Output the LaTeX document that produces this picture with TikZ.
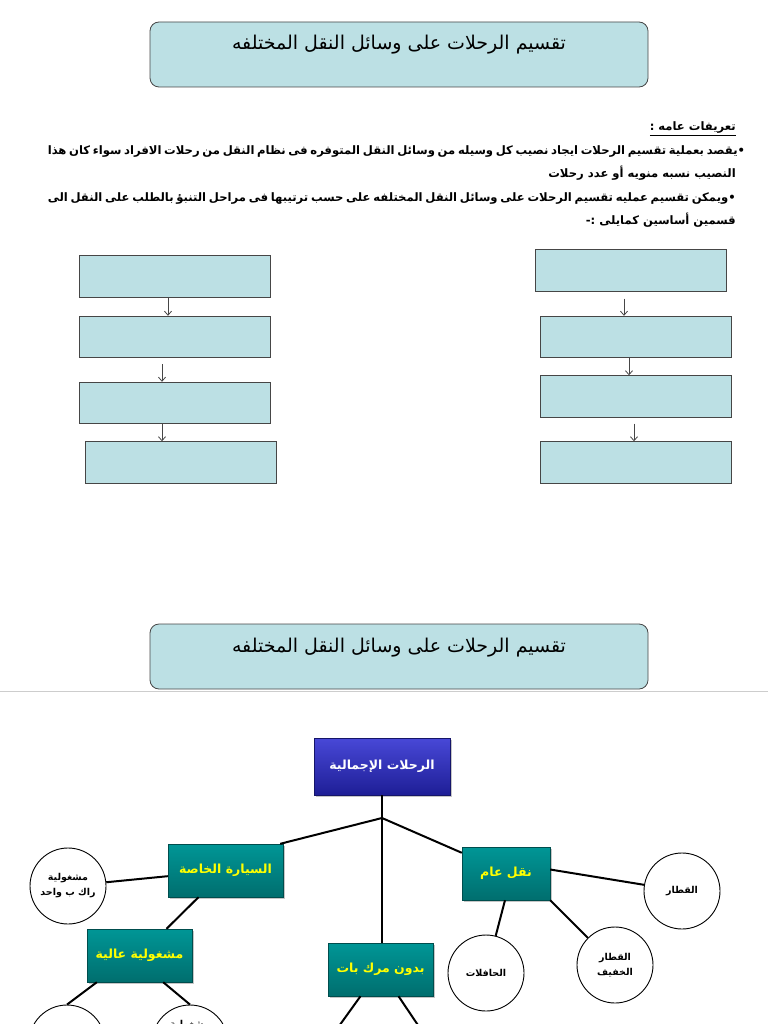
\documentclass[tikz,border=0pt]{standalone}
\usepackage{fontspec}
\usetikzlibrary{positioning,arrows.meta,shadows}
\TeXXeTstate=1
\newfontfamily\arabicfont[Script=Arabic]{DejaVu Sans}
\newcommand\rtl[1]{\beginR#1\endR}
\definecolor{paleblue}{RGB}{188,224,228}
\definecolor{framegray}{RGB}{70,70,70}
\definecolor{tealtop}{RGB}{0,150,150}
\definecolor{tealbot}{RGB}{0,110,110}
\definecolor{navytop}{RGB}{72,72,215}
\definecolor{navybot}{RGB}{30,30,150}
\definecolor{rulegray}{RGB}{205,205,205}
\definecolor{boxyellow}{RGB}{255,255,0}

\tikzset{
  titlebox/.style={draw=framegray, fill=paleblue, rounded corners=9pt, line width=0.8pt,
    minimum width=498pt, minimum height=65pt, text height=11pt, text depth=20pt,
    font=\arabicfont\fontsize{19}{22}\selectfont},
  paratext/.style={inner sep=0pt, font=\arabicfont\bfseries\fontsize{11.6}{14}\selectfont},
  flowbox/.style={draw=framegray, fill=paleblue, line width=0.9pt,
    minimum width=191pt, minimum height=41.5pt},
  flowarrow/.style={draw=framegray, line width=0.8pt, -{Straight Barb[length=4pt,width=7pt]}},
  rootbox/.style={top color=navytop, bottom color=navybot, draw=navybot!70!black,
    minimum width=136pt, minimum height=57pt, text=white,
    drop shadow={shadow xshift=2pt, shadow yshift=-2pt, opacity=0.45},
    font=\arabicfont\bfseries\fontsize{12.5}{15}\selectfont},
  tealbox/.style={top color=tealtop, bottom color=tealbot, draw=tealbot!70!black,
    minimum height=53pt, text=boxyellow,
    drop shadow={shadow xshift=2pt, shadow yshift=-2pt, opacity=0.45},
    font=\arabicfont\bfseries\fontsize{12.5}{15}\selectfont},
  bubble/.style={circle, draw=black, fill=white, line width=0.9pt, minimum size=76pt,
    inner sep=0pt, align=center, font=\arabicfont\bfseries\fontsize{9.5}{15}\selectfont},
  branch/.style={line width=2pt, black}
}

\begin{document}
\begin{tikzpicture}[x=1pt,y=-1pt]
\useasboundingbox (0,0) rectangle (768,1024);
\clip (0,0) rectangle (768,1024);

% page 1
\node[titlebox] (title1) at (399,54.5) {\rtl{تقسيم الرحلات على وسائل النقل المختلفه}};

\node[paratext, anchor=base east] (defhead) at (736,131)
  {\underline{\rtl{تعريفات عامه :}}};
\node[paratext, anchor=base east] (line1) at (736,155)
  {\hbox to 688pt{\rtl{•يقصد بعملية تقسيم الرحلات ايجاد نصيب كل وسيله من وسائل النقل المتوفره فى نظام النقل من رحلات الافراد سواء كان هذا}}};
\node[paratext, anchor=base east] (line2) at (736,178)
  {\rtl{النصيب نسبه منويه أو عدد رحلات}};
\node[paratext, anchor=base east] (line3) at (736,202)
  {\hbox to 688pt{\rtl{•ويمكن تقسيم عمليه تقسيم الرحلات على وسائل النقل المختلفه على حسب ترتيبها فى مراحل التنبؤ بالطلب على النقل الى}}};
\node[paratext, anchor=base east] (line4) at (736,225)
  {\rtl{قسمين أساسين كمايلى :-}};

\node[flowbox] (L1) at (174.5,276.5) {};
\node[flowbox] (L2) at (174.5,337) {};
\node[flowbox] (L3) at (174.5,403) {};
\node[flowbox] (L4) at (180.5,462.5) {};
\node[flowbox] (R1) at (630.5,270.5) {};
\node[flowbox] (R2) at (635.5,337) {};
\node[flowbox] (R3) at (635.5,396.5) {};
\node[flowbox] (R4) at (635.5,462.5) {};

\draw[flowarrow] ([xshift=-6.5pt]L1.south) -- ([xshift=-6.5pt]L2.north);
\draw[flowarrow] ([xshift=-12.5pt,yshift=-6pt]L2.south) -- ([xshift=-12.5pt]L3.north);
\draw[flowarrow] ([xshift=-12.5pt]L3.south) -- ([xshift=-18.5pt]L4.north);
\draw[flowarrow] ([xshift=-6.5pt,yshift=-7pt]R1.south) -- ([xshift=-11.5pt]R2.north);
\draw[flowarrow] ([xshift=-6.5pt]R2.south) -- ([xshift=-6.5pt]R3.north);
\draw[flowarrow] ([xshift=-1.5pt,yshift=-6pt]R3.south) -- ([xshift=-1.5pt]R4.north);

% page 2
\node[titlebox] (title2) at (399,656.5) {\rtl{تقسيم الرحلات على وسائل النقل المختلفه}};
\draw[rulegray, line width=0.8pt] (0,691) -- (768,691);

\node[rootbox] (root) at (382,766.5) {\rtl{الرحلات الإجمالية}};
\coordinate (J) at (382,818);
\node[tealbox, minimum width=115pt] (car) at (225.5,870.5) {\rtl{السيارة الخاصة}};
\node[tealbox, minimum width=88pt] (pub) at (506,873.5) {\rtl{نقل عام}};
\node[tealbox, minimum width=105pt] (nocar) at (380.5,969.5) {\rtl{بدون مرك بات}};
\node[tealbox, minimum width=105pt] (high) at (139.5,955.5) {\rtl{مشغولية عالية}};

\node[bubble] (single) at (68,886) {\rtl{مشغولية}\\\rtl{راك ب واحد}};
\node[bubble] (train) at (682,891) {\rtl{القطار}};
\node[bubble] (bus) at (486,973) {\rtl{الحافلات}};
\node[bubble] (light) at (615,965) {\rtl{القطار}\\\rtl{الخفيف}};
\node[bubble] (lowA) at (67,1043) {};
\node[bubble] (lowB) at (190,1043) {\rtl{مشغولية}\\[24pt]};
\coordinate (offA) at (329,1040);
\coordinate (offB) at (428,1040);

\draw[branch] (root.south) -- (J);
\draw[branch] (J) -- (J |- nocar.north);
\draw[branch] (J) -- ([xshift=-3pt]car.north east);
\draw[branch] (J) -- ([yshift=-6pt]pub.north west);
\draw[branch] (single) -- (car);
\draw[branch] (car) -- (high);
\draw[branch] ([xshift=10pt]high.south west) -- (lowA.north);
\draw[branch] ([xshift=-29pt]high.south east) -- (lowB.north);
\draw[branch] ([xshift=-20pt]nocar.south) -- (offA);
\draw[branch] ([xshift=18pt]nocar.south) -- (offB);
\draw[branch] ([yshift=4pt]pub.east) -- (train);
\draw[branch] ([xshift=-1pt]pub.south) -- (bus);
\draw[branch] (pub.south east) -- (light);
\end{tikzpicture}
\end{document}
